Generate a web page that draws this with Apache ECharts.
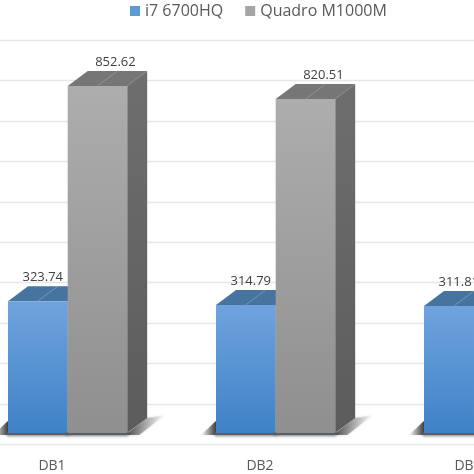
<!DOCTYPE html>
<html><head><meta charset="utf-8">
<style>html,body{margin:0;padding:0;background:#fff;overflow:hidden;width:474px;height:474px}#c{position:absolute;left:-52px;top:0;width:624px;height:474px}</style>
<script src="https://cdn.jsdelivr.net/npm/echarts@6/dist/echarts.min.js"></script>
</head><body><div id="c"></div>
<script>
const categories = ['DB1', 'DB2', 'DB3'];
const i7Values = [323.74, 314.79, 311.81];
const quadroValues = [852.62, 820.51, 810];
const i7Name = 'i7 6700HQ';
const quadroName = 'Quadro M1000M';

const FONT = '"Open Sans", "Noto Sans", sans-serif';
const DX = 20, DY = 15;
const lin = (x0, y0, x1, y1, a, b) => ({type:'linear', x:x0, y:y0, x2:x1, y2:y1,
  colorStops:[{offset:0,color:a},{offset:1,color:b}]});

function bar3d(style) {
  return function (params, api) {
    const band = api.size([1, 0])[0];
    const c = api.coord([api.value(0), api.value(1)]);
    const base = api.coord([api.value(0), 0])[1];
    const w = band * 0.286;
    const l = c[0] + band * style.offset, r = l + w, t = c[1];
    const kids = [];
    if (style.rightShadow) {
      kids.push({type:'polygon', shape:{points:[[r-2,base+2],[r+DX,base-DY],[r+38,base-18],[r+12,base+2]]},
        style:{fill:lin(0,0,1,0.3,'#2e2e2e','rgba(150,150,150,0)'),shadowBlur:3,shadowColor:'rgba(70,70,70,0.35)'}});
    }
    if (style.leftShadow) {
      kids.push({type:'polygon', shape:{points:[[l+1,base-13],[l+1,base+2],[l-15,base+2]]},
        style:{fill:lin(0,0,1,0,'rgba(90,90,90,0)','#333333'),shadowBlur:2,shadowColor:'rgba(70,70,70,0.3)'}});
    }
    kids.push({type:'rect', shape:{x:l-1,y:base-1,width:w+2,height:3},
      style:{fill:'#5a5f66',shadowBlur:3,shadowColor:'rgba(60,60,60,0.7)',shadowOffsetY:1}});
    kids.push({type:'polygon', shape:{points:[[r,t],[r+DX,t-DY],[r+DX,base-DY],[r,base]]},
      style:{fill:lin(0,0,0,1,style.sideTop,style.sideBottom)}});
    kids.push({type:'polygon', shape:{points:[[l,t],[l+DX,t-DY],[r+DX,t-DY],[r,t]]},
      style:{fill:style.top}});
    kids.push({type:'line', shape:{x1:(l+r)/2,y1:t,x2:(l+r)/2+DX,y2:t-DY},
      style:{stroke:style.seam,lineWidth:0.8}});
    kids.push({type:'rect', shape:{x:l,y:t,width:w,height:base-t},
      style:{fill:lin(0,0,0,1,style.frontTop,style.frontBottom)}});
    kids.push({type:'text', style:{text:api.value(1).toFixed(2),
      x:(l+r)/2+style.labelOffset, y:t-DY-8.5, align:'center', verticalAlign:'middle',
      font:'13px '+FONT, fill:'#404040'}});
    return {type:'group', children:kids};
  };
}

const chart = echarts.init(document.getElementById('c'));
chart.setOption({
  animation:false,
  backgroundColor:'#fff',
  legend:{left:182, top:3, padding:0, itemWidth:10, itemHeight:10, itemGap:22, icon:'rect',
    data:[i7Name, quadroName],
    textStyle:{fontFamily:FONT, fontSize:16, color:'#595959'}},
  grid:{left:0, width:624, top:40, height:404.5},
  xAxis:{type:'category', data:categories, axisTick:{show:false},
    axisLine:{show:false},
    axisLabel:{fontFamily:FONT, fontSize:14, color:'#595959', margin:15}},
  yAxis:[
    {type:'value', min:0, max:1000, interval:100, axisLabel:{show:false},
     axisLine:{show:false}, axisTick:{show:false},
     splitLine:{lineStyle:{color:'#e6e6e6', width:1.4}}},
    {type:'value', min:-28.25, max:965.6, show:false, splitLine:{show:false}}
  ],
  series:[
    {name:i7Name, type:'custom', yAxisIndex:1, clip:false, data:categories.map((c,i)=>[i,i7Values[i]]),
     encode:{x:0,y:1}, itemStyle:{color:'#5b9bd5'},
     renderItem:bar3d({offset:-0.2115, frontTop:'#6fa3dd', frontBottom:'#3f82c7', top:'#47739f',
       sideTop:'#3f6795', sideBottom:'#345a84', seam:'#7d9fc4', labelOffset:5, leftShadow:true})},
    {name:quadroName, type:'custom', yAxisIndex:1, clip:false, data:categories.map((c,i)=>[i,quadroValues[i]]),
     encode:{x:0,y:1}, itemStyle:{color:'#a5a5a5'},
     renderItem:bar3d({offset:0.0755, frontTop:'#adadad', frontBottom:'#8f8f8f', top:'#767676',
       sideTop:'#6e6e6e', sideBottom:'#5c5c5c', seam:'#9a9a9a', labelOffset:18, rightShadow:true})}
  ]
});
</script></body></html>
